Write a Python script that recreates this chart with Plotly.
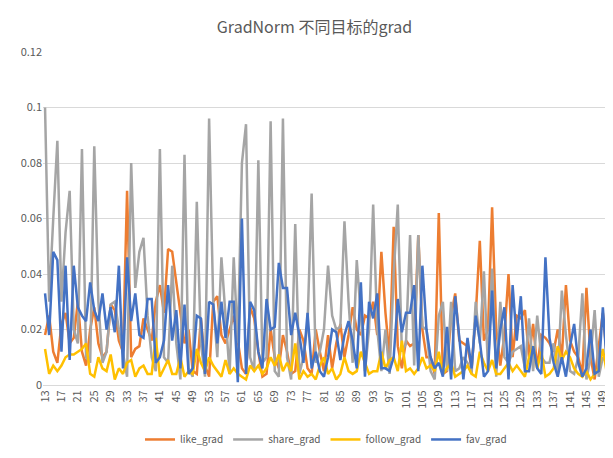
import plotly.graph_objects as go

x_labels = list(range(13, 151))

like_grad = [0.018, 0.025, 0.012, 0.008, 0.022, 0.026, 0.015, 0.017, 0.030, 0.012,
             0.007, 0.020, 0.028, 0.015, 0.010, 0.012, 0.029, 0.027, 0.016, 0.012,
             0.070, 0.010, 0.013, 0.014, 0.024, 0.020, 0.016, 0.030, 0.036, 0.026,
             0.049, 0.048, 0.037, 0.025, 0.015, 0.020, 0.005, 0.004, 0.024, 0.007,
             0.003, 0.030, 0.032, 0.018, 0.015, 0.020, 0.025, 0.016, 0.006, 0.004,
             0.028, 0.024, 0.012, 0.003, 0.004, 0.020, 0.010, 0.006, 0.018, 0.012,
             0.004, 0.005, 0.020, 0.016, 0.006, 0.004, 0.020, 0.012, 0.005, 0.018,
             0.006, 0.015, 0.022, 0.010, 0.018, 0.028, 0.020, 0.018, 0.025, 0.024,
             0.030, 0.018, 0.048, 0.026, 0.010, 0.057, 0.014, 0.006, 0.016, 0.014,
             0.015, 0.054, 0.020, 0.010, 0.010, 0.004, 0.062, 0.004, 0.005, 0.025,
             0.033, 0.016, 0.015, 0.014, 0.006, 0.025, 0.052, 0.016, 0.020, 0.064,
             0.020, 0.007, 0.018, 0.040, 0.010, 0.025, 0.024, 0.027, 0.010, 0.022,
             0.006, 0.018, 0.017, 0.015, 0.012, 0.020, 0.010, 0.036, 0.016, 0.012,
             0.010, 0.004, 0.035, 0.010, 0.002, 0.015, 0.026, 0.010]
share_grad = [0.100, 0.030, 0.060, 0.088, 0.030, 0.055, 0.070, 0.020, 0.015, 0.085,
              0.010, 0.008, 0.086, 0.030, 0.008, 0.012, 0.029, 0.030, 0.020, 0.012,
              0.003, 0.080, 0.035, 0.048, 0.053, 0.025, 0.010, 0.005, 0.085, 0.010,
              0.008, 0.043, 0.015, 0.002, 0.083, 0.006, 0.003, 0.066, 0.015, 0.003,
              0.096, 0.030, 0.010, 0.046, 0.025, 0.004, 0.046, 0.015, 0.080, 0.094,
              0.010, 0.005, 0.081, 0.008, 0.010, 0.095, 0.005, 0.003, 0.096, 0.010,
              0.002, 0.058, 0.004, 0.010, 0.022, 0.069, 0.008, 0.012, 0.020, 0.043,
              0.025, 0.020, 0.021, 0.059, 0.030, 0.008,
              0.045, 0.025, 0.005, 0.020, 0.065, 0.020, 0.005, 0.020, 0.004, 0.040,
              0.065, 0.012, 0.015, 0.054, 0.007, 0.054, 0.021, 0.020, 0.005, 0.002,
              0.025, 0.030, 0.005, 0.030, 0.005, 0.006, 0.010, 0.008, 0.004, 0.030,
              0.015, 0.041, 0.006, 0.042, 0.003, 0.030, 0.010, 0.008, 0.012, 0.013,
              0.014, 0.006, 0.024, 0.005, 0.025, 0.010, 0.008, 0.008, 0.015, 0.004,
              0.034, 0.018, 0.005, 0.004, 0.010, 0.033, 0.002, 0.010, 0.027, 0.003, 0.010, 0.008]
follow_grad = [0.013, 0.004, 0.007, 0.005, 0.007, 0.010, 0.011, 0.011, 0.012, 0.013,
               0.015, 0.004, 0.003, 0.010, 0.006, 0.005, 0.011, 0.002, 0.006, 0.004,
               0.008, 0.009, 0.003, 0.006, 0.007, 0.004, 0.004, 0.017, 0.003, 0.006,
               0.009, 0.004, 0.004, 0.010, 0.003, 0.005, 0.004, 0.013, 0.008, 0.005,
               0.010, 0.007, 0.005, 0.003, 0.009, 0.004, 0.006, 0.004, 0.003, 0.002,
               0.007, 0.005, 0.007, 0.004, 0.006, 0.010, 0.007, 0.011, 0.005, 0.008,
               0.005, 0.015, 0.002, 0.005, 0.003, 0.004, 0.002, 0.007, 0.010, 0.004,
               0.006, 0.002, 0.004, 0.010, 0.005, 0.004, 0.005, 0.012, 0.008, 0.004,
               0.005, 0.005, 0.012, 0.006, 0.009, 0.010, 0.005, 0.016, 0.005, 0.006,
               0.004, 0.006, 0.010, 0.006, 0.007, 0.005, 0.012, 0.004, 0.006, 0.008,
               0.003, 0.004, 0.005, 0.007, 0.004, 0.003, 0.012, 0.008, 0.005, 0.009,
               0.004, 0.004, 0.006, 0.008, 0.005, 0.007, 0.005, 0.003, 0.010, 0.014,
               0.006, 0.012, 0.003, 0.004, 0.006, 0.014, 0.009, 0.012, 0.010, 0.006,
               0.004, 0.003, 0.005, 0.002, 0.004, 0.006, 0.013, 0.004]
fav_grad = [0.033, 0.018, 0.048, 0.045, 0.012, 0.043, 0.009, 0.043, 0.028, 0.025,
            0.023, 0.037, 0.027, 0.023, 0.033, 0.020, 0.028, 0.019, 0.043, 0.006,
            0.046, 0.023, 0.033, 0.018, 0.017, 0.031, 0.031, 0.008, 0.010, 0.016,
            0.036, 0.016, 0.027, 0.006, 0.029, 0.004, 0.006, 0.025, 0.024, 0.004,
            0.030, 0.029, 0.015, 0.030, 0.017, 0.030, 0.030, 0.001, 0.060, 0.004,
            0.030, 0.027, 0.012, 0.006, 0.031, 0.020, 0.021, 0.044, 0.035, 0.035,
            0.018, 0.026, 0.018, 0.008, 0.026, 0.006, 0.012, 0.005, 0.003, 0.010,
            0.020, 0.019, 0.009, 0.018, 0.023, 0.016,
            0.006, 0.037, 0.003, 0.030, 0.024, 0.033, 0.006, 0.006, 0.005, 0.010,
            0.031, 0.019, 0.026, 0.026, 0.036, 0.005, 0.043, 0.020, 0.010, 0.006,
            0.008, 0.003, 0.021, 0.002, 0.032, 0.016, 0.002, 0.017, 0.006, 0.025,
            0.016, 0.003, 0.005, 0.034, 0.006, 0.020, 0.028, 0.002, 0.036, 0.016,
            0.032, 0.005, 0.005, 0.014, 0.006, 0.004, 0.046, 0.017, 0.008, 0.003,
            0.010, 0.003, 0.014, 0.022, 0.008, 0.003, 0.006, 0.020, 0.004, 0.005, 0.028, 0.007]

y_ticks = [0, 0.02, 0.04, 0.06, 0.08, 0.1, 0.12]
y_tick_text = ["0", "0.02", "0.04", "0.06", "0.08", "0.1", "0.12"]

series = [
    ("like_grad", like_grad, "#ED7D31"),
    ("share_grad", share_grad, "#A5A5A5"),
    ("follow_grad", follow_grad, "#FFC000"),
    ("fav_grad", fav_grad, "#4472C4"),
]

n = len(x_labels)
fig = go.Figure()
for name, vals, color in series:
    vals = vals[:n]
    fig.add_trace(go.Scatter(
        x=x_labels[:len(vals)], y=vals, mode="lines", name=name,
        line=dict(color=color, width=2.5),
    ))

fig.update_layout(
    width=613, height=458,
    paper_bgcolor="white", plot_bgcolor="white",
    font=dict(family="Noto Sans CJK SC, sans-serif", color="#595959", size=11),
    title=dict(text="GradNorm 不同目标的grad", x=0.5, y=0.97, xanchor="center",
               font=dict(size=16, color="#595959")),
    margin=dict(l=35, r=12, t=44, b=66),
    showlegend=True,
    legend=dict(orientation="h", x=0.5, xanchor="center", y=-0.12, yanchor="top",
                font=dict(size=10)),
    xaxis=dict(tickmode="array", tickvals=x_labels[::4], tickangle=-90,
               showgrid=False, showline=True, linecolor="#D9D9D9",
               range=[12.5, 150.5], tickfont=dict(size=11)),
    yaxis=dict(range=[0, 0.12], tickmode="array", tickvals=y_ticks, ticktext=y_tick_text,
               showgrid=True, gridcolor="#D9D9D9", zeroline=False, tickfont=dict(size=11)),
)

fig.write_html("out.html")
